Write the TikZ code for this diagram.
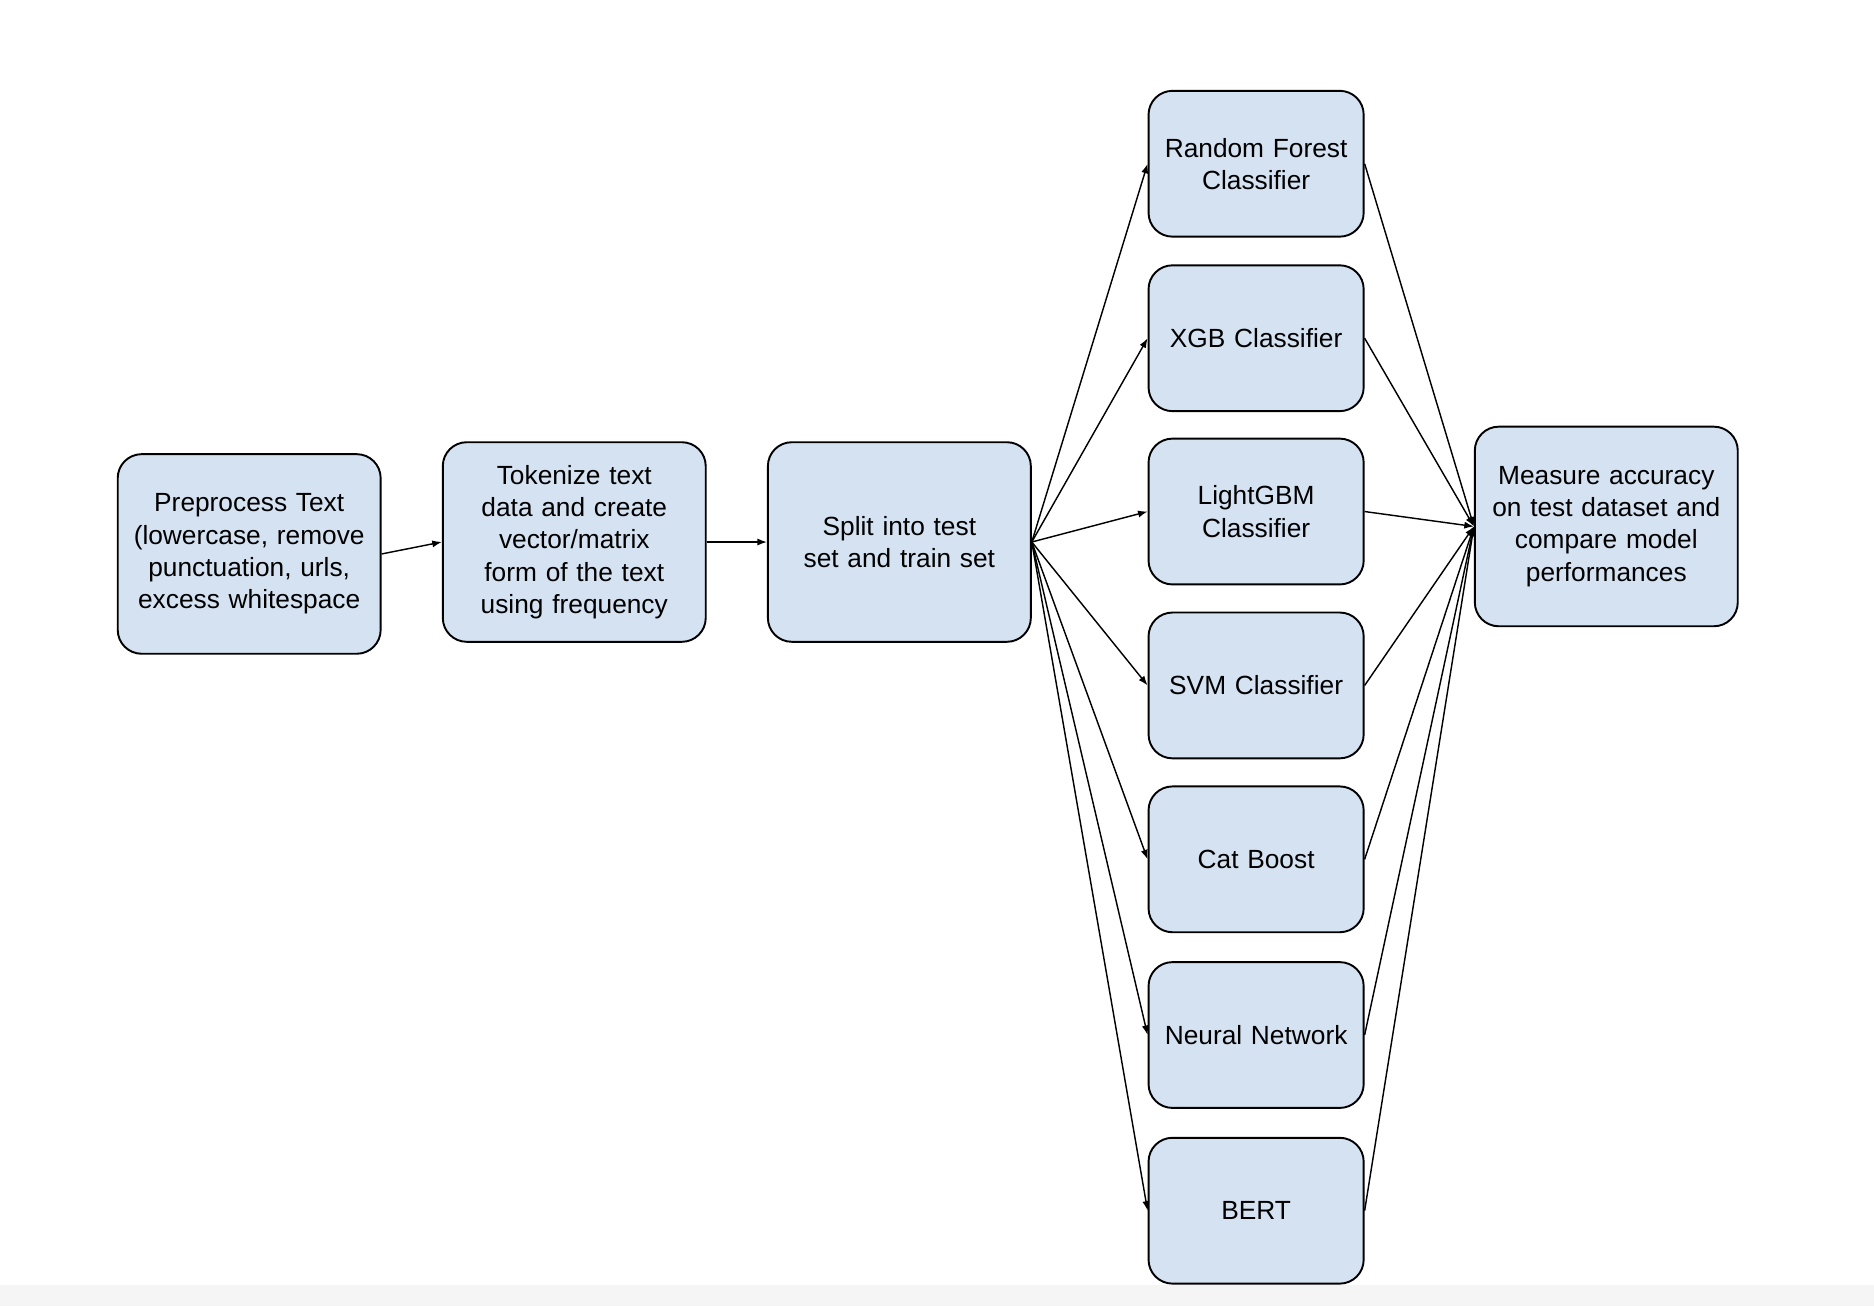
\documentclass[tikz,border=0pt]{standalone}
\usepackage{fontspec}
\setmainfont{Liberation Sans}
\usetikzlibrary{arrows.meta}
\definecolor{boxfill}{HTML}{D5E2F1}
\begin{document}
\begin{tikzpicture}[x=0.5pt,y=-0.5pt,
  box/.style={draw=black,line width=0.8pt,fill=boxfill,rounded corners=10pt,
    minimum width=110pt,text width=100pt,align=center,font=\fontsize{11}{13.5}\selectfont,inner sep=0pt},
  arr/.style={-{Latex[length=4pt,width=3pt]},line width=0.6pt}]
\useasboundingbox (0,0) rectangle (1568,1093);
\fill[black!4] (0,1075) rectangle (1568,1093);
\node[box,minimum height=83.5pt] (pre) at (208.5,463.5) {Preprocess Text (lowercase, remove punctuation, urls, excess whitespace};
\node[box,minimum height=83.5pt] (tok) at (480.5,453.5) {Tokenize text data and create vector/matrix form of the text using frequency};
\node[box,minimum height=83.5pt] (spl) at (752.5,453.5) {Split into test set and train set};
\node[box,minimum height=83.5pt] (mea) at (1344,440.5) {Measure accuracy on test dataset and compare model performances};
\tikzset{cls/.style={box,minimum width=90pt,text width=80pt,minimum height=61pt}}
\node[cls] (rf) at (1051,137) {Random Forest Classifier};
\node[cls] (xgb) at (1051,283) {XGB Classifier};
\node[cls] (lgb) at (1051,428) {LightGBM Classifier};
\node[cls] (svm) at (1051,573.5) {SVM Classifier};
\node[cls] (cat) at (1051,719) {Cat Boost};
\node[cls] (nn) at (1051,866) {Neural Network};
\node[cls] (bert) at (1051,1013) {BERT};
\draw[arr] (pre.east) -- (tok.west);
\draw[arr] (tok.east) -- (spl.west);
\foreach \c in {rf,xgb,lgb,svm,cat,nn,bert}{
  \draw[arr] (spl.east) -- (\c.west);
  \draw[arr] (\c.east) -- (mea.west);
}
\end{tikzpicture}
\end{document}
